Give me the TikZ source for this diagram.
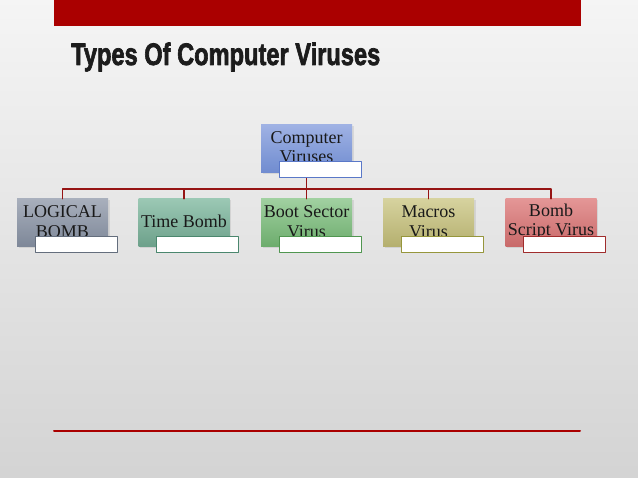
\documentclass[tikz,border=0pt]{standalone}
\usepackage{fontspec}
\setmainfont{Liberation Serif}
\newfontfamily\headfont[BoldFeatures={FakeBold=2.5}]{Liberation Sans}
\usetikzlibrary{positioning}
\usetikzlibrary{shadows}
\definecolor{barred}{RGB}{170,0,0}
\definecolor{linkred}{RGB}{150,20,20}
\definecolor{headgray}{RGB}{28,28,28}
\definecolor{cvtop}{RGB}{160,178,228}\definecolor{cvbot}{RGB}{112,140,208}\definecolor{cvline}{RGB}{90,120,200}
\definecolor{lbtop}{RGB}{168,175,188}\definecolor{lbbot}{RGB}{125,135,152}\definecolor{lbline}{RGB}{100,110,125}
\definecolor{tbtop}{RGB}{155,200,180}\definecolor{tbbot}{RGB}{108,160,138}\definecolor{tbline}{RGB}{75,135,110}
\definecolor{bstop}{RGB}{160,208,160}\definecolor{bsbot}{RGB}{108,172,108}\definecolor{bsline}{RGB}{80,150,80}
\definecolor{mvtop}{RGB}{214,210,158}\definecolor{mvbot}{RGB}{180,175,110}\definecolor{mvline}{RGB}{150,150,60}
\definecolor{sctop}{RGB}{228,150,150}\definecolor{scbot}{RGB}{200,105,105}\definecolor{scline}{RGB}{160,45,45}

\begin{document}
\begin{tikzpicture}[x=1pt,y=-1pt,line cap=round,line join=round,
	box/.style={shade,shading angle=0,minimum width=91pt,minimum height=48pt,inner sep=0pt,
		drop shadow={opacity=0.18,shadow xshift=1.5pt,shadow yshift=-1.5pt}},
	tag/.style={fill=white,minimum width=82pt,minimum height=16pt,inner sep=0pt,line width=0.9pt},
	lbl/.style={font=\fontsize{18}{19.5}\selectfont,align=center,inner sep=0pt,text=black!90,yshift=1.5pt},
	link/.style={draw=linkred,line width=1.4pt}]
	% background and frame
	\shade[top color=white!96!black,bottom color=white!83!black] (0,0) rectangle (638,478);
	\fill[barred] (54,0) rectangle (581,26);
	\draw[barred,line width=2pt] (54,431) -- (580,431);
	\node[anchor=base west,inner sep=0pt,text=headgray] (title) at (71,65)
		{\resizebox{309pt}{22.5pt}{\headfont\bfseries Types Of Computer Viruses}};
	% boxes
	\node[box,top color=cvtop,bottom color=cvbot] (cv) at (306.5,148.5) {};
	\node[box,top color=lbtop,bottom color=lbbot] (lb) at (62.5,223) {};
	\node[box,top color=tbtop,bottom color=tbbot] (tb) at (184,223) {};
	\node[box,top color=bstop,bottom color=bsbot] (bs) at (306.5,223) {};
	\node[box,top color=mvtop,bottom color=mvbot] (mv) at (428.5,223) {};
	\node[box,top color=sctop,bottom color=scbot] (sc) at (551,223) {};
	% connectors
	\coordinate (bus) at (306.5,189);
	\draw[link] (cv.south) -- (bs.north);
	\foreach \n in {lb,tb,mv,sc}
		\draw[link] (bus) -| (\n.north);
	% texts
	\node[lbl] (cv-t) at (cv.center) {Computer\\Viruses};
	\node[lbl] (lb-t) at (lb.center) {LOGICAL\\BOMB};
	\node[lbl] (tb-t) at (tb.center) {Time Bomb};
	\node[lbl] (bs-t) at (bs.center) {Boot Sector\\Virus};
	\node[lbl] (mv-t) at (mv.center) {Macros\\Virus};
	\node[lbl] (sc-t) at (sc.center) {Bomb\\Script Virus};
	% small tags
	\foreach \n/\c in {cv/cvline,lb/lbline,tb/tbline,bs/bsline,mv/mvline,sc/scline}
		\node[tag,draw=\c] (\n-tag) at ([xshift=13.5pt,yshift=-21pt]\n.center) {};
\end{tikzpicture}
\end{document}
